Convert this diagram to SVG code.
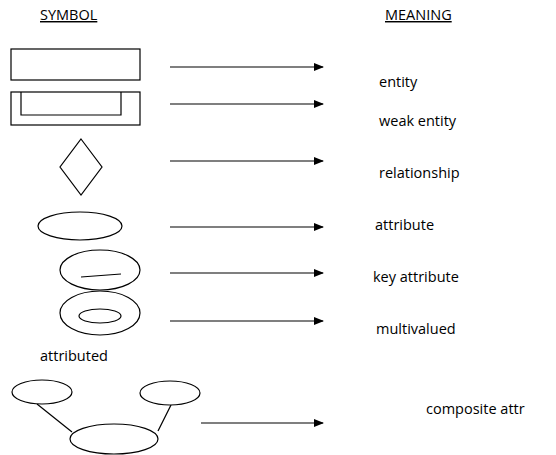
<svg xmlns="http://www.w3.org/2000/svg" width="556" height="455" viewBox="0 0 556 455">
<defs><marker id="ah" markerWidth="10" markerHeight="8" refX="9" refY="4" orient="auto" markerUnits="userSpaceOnUse"><path d="M0,0 L10,4 L0,8 z" fill="#000"/></marker></defs>
<style>.s{fill:#fff;stroke:#000;stroke-width:1.2}.t{font-family:"Open Sans","Liberation Sans",Arial,sans-serif;font-size:14.5px;fill:#000}.c{stroke:#000;stroke-width:1.2;fill:none}</style>
<rect width="556" height="455" fill="#fff"/>
<text class="t" x="40" y="20" text-decoration="underline">SYMBOL </text>
<text class="t" x="385" y="20" text-decoration="underline"> MEANING</text>
<g id="entity"><rect class="s" x="11" y="49" width="129" height="31"/></g>
<g id="weak-entity"><rect class="s" x="11" y="92" width="129" height="33"/><path class="c" d="M21,92 V115 H121 V92"/></g>
<g id="relationship"><polygon class="s" points="81,139 102,167 81,195 60,167"/></g>
<g id="attribute"><ellipse class="s" cx="80" cy="226" rx="42" ry="14"/></g>
<g id="key-attribute"><ellipse class="s" cx="100" cy="270" rx="40" ry="20"/><line class="c" x1="81" y1="277" x2="121" y2="274"/></g>
<g id="multivalued"><ellipse class="s" cx="100" cy="313" rx="40" ry="22"/><ellipse class="s" cx="100" cy="316" rx="21" ry="7"/></g>
<text class="t" x="40" y="361">attributed</text>
<g id="composite"><line class="c" x1="37" y1="404" x2="72" y2="432"/><line class="c" x1="171" y1="405" x2="158" y2="431"/><ellipse class="s" cx="42" cy="392" rx="30" ry="12"/><ellipse class="s" cx="170" cy="393" rx="30" ry="12"/><ellipse class="s" cx="114" cy="439" rx="44" ry="15"/></g>
<g id="connectors" class="c">
<line x1="170" y1="67" x2="323" y2="67" marker-end="url(#ah)"/>
<line x1="170" y1="104" x2="323" y2="104" marker-end="url(#ah)"/>
<line x1="170" y1="161" x2="323" y2="161" marker-end="url(#ah)"/>
<line x1="170" y1="227" x2="323" y2="227" marker-end="url(#ah)"/>
<line x1="170" y1="273" x2="323" y2="273" marker-end="url(#ah)"/>
<line x1="170" y1="321" x2="323" y2="321" marker-end="url(#ah)"/>
<line x1="201" y1="423" x2="323" y2="423" marker-end="url(#ah)"/>
</g>
<text class="t" x="379" y="87">entity</text>
<text class="t" x="379" y="126">weak entity</text>
<text class="t" x="379" y="178">relationship</text>
<text class="t" x="375" y="230">attribute</text>
<text class="t" x="373" y="282">key attribute</text>
<text class="t" x="376" y="334">multivalued</text>
<text class="t" x="426" y="414">composite attr</text>
</svg>
